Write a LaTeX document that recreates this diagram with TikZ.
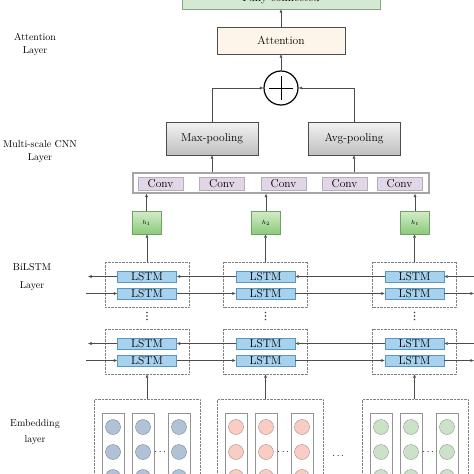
\documentclass[tikz,border=0pt]{standalone}
\usepackage{amsmath}
\usepackage{xcolor}
\usepackage{tikz}
\usetikzlibrary{arrows.meta,shapes,positioning}

\definecolor{fcgreen}{RGB}{213,232,212}
\definecolor{fcedge}{RGB}{130,170,130}
\definecolor{attpeach}{RGB}{253,244,234}
\definecolor{convlav}{RGB}{226,213,232}
\definecolor{lstmblue}{RGB}{166,210,238}
\definecolor{lstmedge}{RGB}{90,150,195}
\definecolor{htop}{RGB}{210,236,202}
\definecolor{hbot}{RGB}{140,202,122}
\definecolor{embblue}{RGB}{176,194,214}
\definecolor{embpink}{RGB}{249,204,196}
\definecolor{embgreen}{RGB}{204,226,200}

\begin{document}
\begin{tikzpicture}[x=1pt, y=-1pt,
    txt/.style={font=\fontsize{11.5}{13}\selectfont, inner sep=0pt},
    lbl/.style={font=\fontsize{10}{13}\selectfont, align=center, inner sep=0pt},
    arr/.style={draw=black!70, -{Latex[length=3.5pt,width=3pt]}},
    fcbox/.style={txt, draw=fcedge, fill=fcgreen, minimum width=198, minimum height=20},
    attbox/.style={txt, draw=black!70, fill=attpeach, minimum width=128, minimum height=27},
    poolbox/.style={txt, draw=black!70, top color=gray!10, bottom color=gray!50, minimum width=92, minimum height=33},
    convbox/.style={txt, draw=gray!60, fill=convlav, minimum width=45, minimum height=13},
    hbox/.style={draw=hbot!80!black, top color=htop, bottom color=hbot, minimum width=29, minimum height=23, inner sep=0pt, font=\fontsize{6}{7}\selectfont},
    grp/.style={draw=gray, densely dotted, minimum width=84, minimum height=45, inner sep=0pt},
    lstm/.style={txt, draw=lstmedge, fill=lstmblue, minimum width=59, minimum height=11},
    dotsym/.style={font=\normalsize, inner sep=0pt}]
\useasboundingbox (0,0) rectangle (474,474);

\node[lbl] (lattn) at (35,44.5) {Attention\\Layer};
\node[lbl] (lcnn) at (40,151.5) {Multi-scale CNN\\Layer};
\node[lbl] (lbil) at (32,277) {BiLSTM\\[5pt]Layer};
\node[lbl] (lemb) at (35,432) {Embedding\\[3pt]layer};

\node[fcbox] (fc) at (281,-1) {Fully connected};
\node[attbox] (att) at (281,40.5) {Attention};
\node[circle, draw, very thick, minimum size=34, inner sep=0pt] (sum) at (281,88) {};
\draw[thick] ([xshift=-12pt]sum.center) -- ([xshift=12pt]sum.center);
\draw[thick] ([yshift=-12pt]sum.center) -- ([yshift=12pt]sum.center);
\node[poolbox] (maxp) at (212,138.5) {Max-pooling};
\node[poolbox] (avgp) at (354,138.5) {Avg-pooling};

\draw[arr] (att.north) -- (fc.south);
\draw[arr] (sum.north) -- (att.south);
\draw[arr] (maxp.north) |- (sum.west);
\draw[arr] (avgp.north) |- (sum.east);

\node[draw=gray!70, line width=1.2pt, fill=white, minimum width=296, minimum height=20] (bar) at (281,183) {};
\foreach \x [count=\i] in {160.5,222,283.5,344.5,399.5}
    \node[convbox] (conv\i) at (\x,183.5) {Conv};
\draw[arr] (bar.north -| maxp.south) -- (maxp.south);
\draw[arr] (bar.north -| avgp.south) -- (avgp.south);

\foreach \x/\s [count=\i] in {146.5/1,266/2,415/t} {
    \node[hbox] (h\i) at (\x,222.5) {$h_{\s}$};
    \draw[arr] (h\i.north) -- (h\i.north |- bar.south);
}

\foreach \lay/\yc in {u/284.5,l/351.5} {
    \foreach \x [count=\i] in {147,265.5,414.5} {
        \node[grp] (\lay g\i) at (\x,\yc) {};
        \node[lstm] (\lay b\i) at (\x,\yc-8) {LSTM};
        \node[lstm] (\lay f\i) at (\x,\yc+9) {LSTM};
    }
    \coordinate (\lay bR) at (476,\yc-8);
    \coordinate (\lay bL) at (88,\yc-8);
    \coordinate (\lay fL) at (86,\yc+9);
    \coordinate (\lay fR) at (474,\yc+9);
    \draw[arr] (\lay bR) -- (\lay b3);
    \draw[arr] (\lay b3) -- (\lay b2);
    \draw[arr] (\lay b2) -- (\lay b1);
    \draw[arr] (\lay b1) -- (\lay bL);
    \draw[arr] (\lay fL) -- (\lay f1);
    \draw[arr] (\lay f1) -- (\lay f2);
    \draw[arr] (\lay f2) -- (\lay f3);
    \draw[arr] (\lay f3) -- (\lay fR);
}
\foreach \x [count=\i] in {147,265.5,414.5} {
    \foreach \yy in {312.5,316,319.5}
        \fill[black!75] (\x,\yy) circle[radius=0.9pt];
    \draw[arr] (ug\i.north) -- (ug\i.north |- h\i.south);
}

\foreach \x/\c [count=\i] in {94/embblue,217/embpink,362/embgreen} {
    \node[grp, minimum width=106, minimum height=90, anchor=north west] (emb\i) at (\x,399) {};
    \draw[arr] (lg\i.south |- emb\i.north) -- (lg\i.south);
    \foreach \o in {8,38,74} {
        \draw[gray!45, line width=0.9pt] (\x+\o,413) rectangle (\x+\o+22,490);
        \draw[gray!85, line width=0.9pt] (\x+\o,490) -- (\x+\o,413) -- (\x+\o+22,413) -- (\x+\o+22,490);
        \foreach \yy in {427,452,477}
            \filldraw[fill=\c, draw=\c!60!black, line width=0.3pt] (\x+\o+11,\yy) circle[radius=7.5pt];
    }
    \node[dotsym] (ed\i) at (\x+67,452) {$\cdots$};
}
\node[dotsym] (mdots) at (339,456) {$\cdots$};
\end{tikzpicture}
\end{document}
